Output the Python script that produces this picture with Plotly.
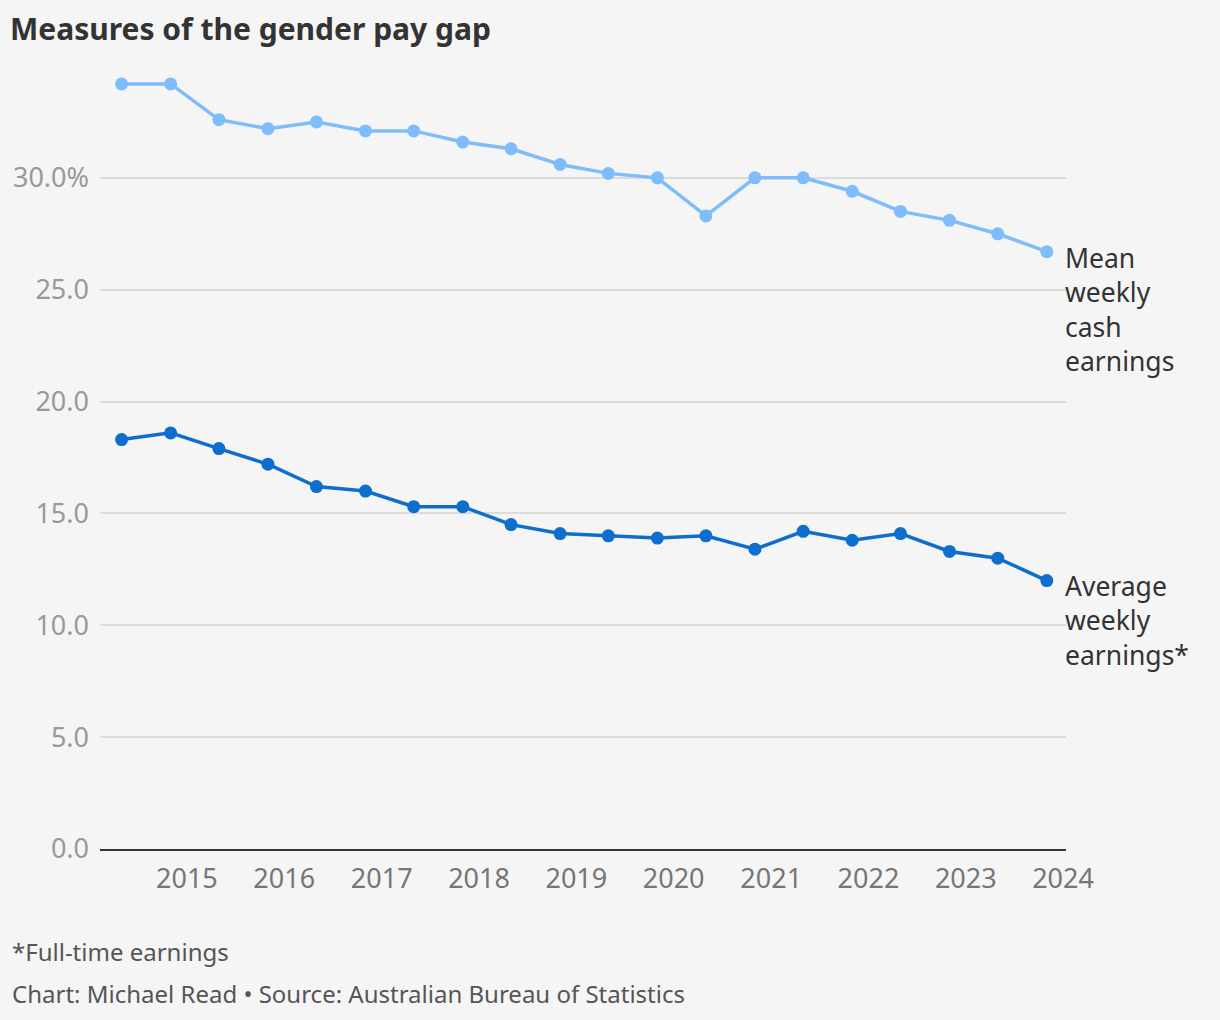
import plotly.graph_objects as go

dates = [
    "2014-05-01", "2014-11-01", "2015-05-01", "2015-11-01", "2016-05-01",
    "2016-11-01", "2017-05-01", "2017-11-01", "2018-05-01", "2018-11-01",
    "2019-05-01", "2019-11-01", "2020-05-01", "2020-11-01", "2021-05-01",
    "2021-11-01", "2022-05-01", "2022-11-01", "2023-05-01", "2023-11-01",
]
mean_cash = [34.2, 34.2, 32.6, 32.2, 32.5, 32.1, 32.1, 31.6, 31.3, 30.6,
             30.2, 30.0, 28.3, 30.0, 30.0, 29.4, 28.5, 28.1, 27.5, 26.7]
avg_weekly = [18.3, 18.6, 17.9, 17.2, 16.2, 16.0, 15.3, 15.3, 14.5, 14.1,
              14.0, 13.9, 14.0, 13.4, 14.2, 13.8, 14.1, 13.3, 13.0, 12.0]

y_tickvals = [0, 5, 10, 15, 20, 25, 30]
y_ticktext = ["0.0", "5.0", "10.0", "15.0", "20.0", "25.0", "30.0%"]
x_tickvals = ["2015-01-01", "2016-01-01", "2017-01-01", "2018-01-01", "2019-01-01",
              "2020-01-01", "2021-01-01", "2022-01-01", "2023-01-01", "2024-01-01"]
x_ticktext = ["2015", "2016", "2017", "2018", "2019", "2020", "2021", "2022", "2023", "2024"]

title = "Measures of the gender pay gap"
label_mean = "Mean<br>weekly<br>cash<br>earnings"
label_avg = "Average<br>weekly<br>earnings*"
note = "*Full-time earnings"
source = "Chart: Michael Read • Source: Australian Bureau of Statistics"

LIGHT = "#7fbcfb"
DARK = "#0d6ecd"
FONT = "Noto Sans"

W, H = 1220, 1020
ML, MR, MT, MB = 100, 154, 66, 171

fig = go.Figure()
fig.add_trace(go.Scatter(x=dates, y=mean_cash, mode="lines+markers",
                         line=dict(color=LIGHT, width=3.5),
                         marker=dict(color=LIGHT, size=13), showlegend=False))
fig.add_trace(go.Scatter(x=dates, y=avg_weekly, mode="lines+markers",
                         line=dict(color=DARK, width=3.5),
                         marker=dict(color=DARK, size=13), showlegend=False))

fig.update_layout(
    width=W, height=H,
    margin=dict(l=ML, r=MR, t=MT, b=MB),
    paper_bgcolor="#f5f5f5", plot_bgcolor="#f5f5f5",
    font=dict(family=FONT, color="#333333"),
    title=dict(text="<b>" + title + "</b>", x=10 / W, xanchor="left",
               xref="container", y=1 - 19 / H, yanchor="top", yref="container",
               font=dict(size=30, color="#333333", family=FONT)),
    xaxis=dict(range=["2014-02-09", "2024-01-12"], tickvals=x_tickvals, ticktext=x_ticktext,
               showgrid=False, zeroline=False, showline=True, linecolor="#333333", linewidth=2,
               ticks="", tickfont=dict(size=27, color="#767676"), ticklabelstandoff=5),
    yaxis=dict(range=[0, 35], tickvals=y_tickvals, ticktext=y_ticktext,
               showgrid=True, gridcolor="#dcdcdc", gridwidth=1.5, zeroline=False,
               showline=False, ticks="", tickfont=dict(size=27, color="#999999"),
               ticklabelstandoff=10),
)

fig.add_annotation(x=dates[-1], y=mean_cash[-1], xref="x", yref="y", text=label_mean,
                   showarrow=False, xanchor="left", yanchor="top", align="left",
                   xshift=16, yshift=14, font=dict(size=26.5, color="#333333"))
fig.add_annotation(x=dates[-1], y=avg_weekly[-1], xref="x", yref="y", text=label_avg,
                   showarrow=False, xanchor="left", yanchor="top", align="left",
                   xshift=16, yshift=15, font=dict(size=26.5, color="#333333"))

plot_w = W - ML - MR
plot_h = H - MT - MB
for text, ypix in [(note, 951), (source, 993)]:
    fig.add_annotation(x=(10 - ML) / plot_w, y=(H - MB - ypix) / plot_h,
                       xref="paper", yref="paper", text=text,
                       showarrow=False, xanchor="left", yanchor="middle", align="left",
                       font=dict(size=24, color="#555555"))

fig.write_html("out.html", config={"displayModeBar": False},
               post_script="document.body.style.margin='0';document.body.style.overflow='hidden';")
